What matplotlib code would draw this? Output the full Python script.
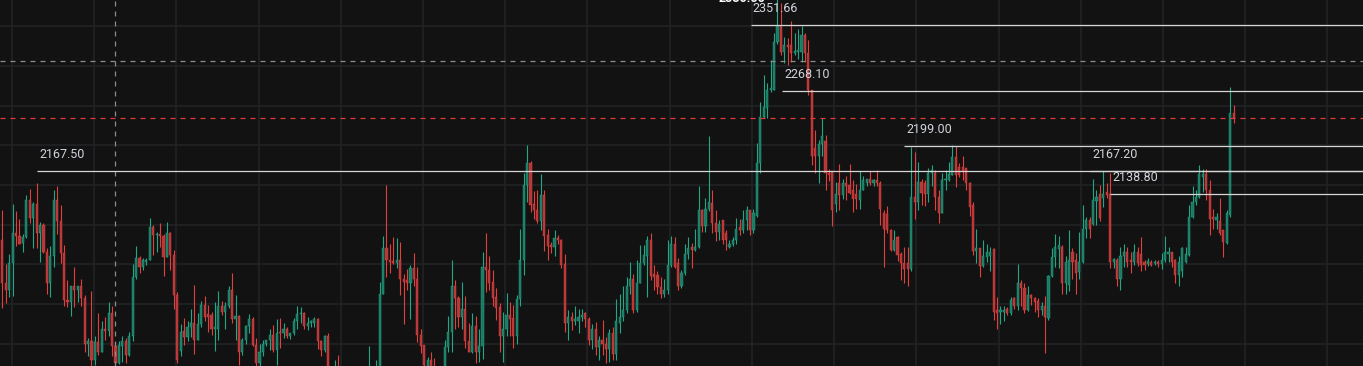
import matplotlib
matplotlib.use("Agg")
import matplotlib.pyplot as plt
import numpy as np

opens = [
    2081, 2026, 2018, 2051, 2090, 2086, 2077, 2084, 2131, 2108,
    2126, 2089, 2100, 2065, 2027, 2060, 2131, 2104, 2064, 2005,
    2002, 2022, 2017, 2023, 2008, 1950, 1953, 1929, 1952, 1940,
    1968, 1966, 1988, 1947, 1925, 1947, 1953, 1936, 1960, 2034,
    2058, 2047, 2053, 2056, 2097, 2087, 2088, 2085, 2059, 2090,
    2062, 2011, 1941, 1966, 1958, 1971, 1976, 1955, 1975, 1999,
    1987, 1986, 1968, 1968, 1997, 1990, 1997, 2018, 1981, 1985,
    1940, 1955, 1972, 1981, 1948, 1925, 1940, 1950, 1954, 1961,
    1942, 1964, 1963, 1969, 1959, 1963, 1978, 1987, 1989, 1972,
    1976, 1976, 1981, 1953, 1942, 1959, 1910, 1905, 1918, 1900,
    1905, 1896, 1903, 1910, 1899, 1908, 1912, 1906, 1920, 1913,
    1921, 2013, 2070, 2056, 2054, 2051, 2056, 2032, 2030, 2027,
    2045, 2032, 1961, 1948, 1918, 1929, 1915, 1905, 1900, 1912,
    1946, 1965, 2023, 2007, 1983, 1993, 1953, 1940, 1972, 1940,
    1947, 2047, 2043, 2028, 2009, 1996, 1960, 1968, 1986, 1982,
    1960, 2006, 2055, 2150, 2177, 2126, 2119, 2104, 2137, 2087,
    2074, 2072, 2083, 2081, 2050, 1976, 1983, 1978, 1979, 1983,
    1988, 1981, 1954, 1969, 1946, 1955, 1950, 1943, 1964, 1937,
    1976, 1984, 1992, 2022, 2032, 1992, 2026, 2051, 2060, 2080,
    2038, 2036, 2021, 2013, 2017, 2049, 2076, 2051, 2022, 2039,
    2063, 2072, 2068, 2072, 2118, 2098, 2120, 2127, 2102, 2091,
    2106, 2089, 2072, 2075, 2080, 2097, 2093, 2106, 2119, 2093,
    2111, 2177, 2235, 2247, 2270, 2270, 2330, 2350, 2318, 2326,
    2326, 2316, 2318, 2318, 2339, 2316, 2269, 2196, 2186, 2202,
    2205, 2165, 2167, 2126, 2152, 2137, 2152, 2150, 2144, 2139,
    2131, 2144, 2153, 2157, 2153, 2156, 2152, 2114, 2113, 2093,
    2068, 2084, 2063, 2052, 2051, 2044, 2135, 2128, 2154, 2152,
    2139, 2165, 2165, 2135, 2115, 2156, 2156, 2162, 2185, 2173,
    2172, 2171, 2153, 2125, 2067, 2071, 2048, 2059, 2060, 2069,
    1992, 1990, 1990, 1993, 1989, 2007, 1997, 2026, 2020, 1992,
    2011, 2007, 2004, 1992, 1997, 1982, 2035, 2059, 2069, 2072,
    2026, 2024, 2066, 2055, 2040, 2053, 2095, 2106, 2101, 2130,
    2139, 2134, 2141, 2139, 2053, 2055, 2032, 2060, 2066, 2055,
    2053, 2065, 2063, 2053, 2050, 2053, 2051, 2053, 2050, 2055,
    2063, 2065, 2056, 2036, 2042, 2053, 2062, 2110, 2128, 2135,
    2160, 2164, 2143, 2110, 2106, 2104, 2093, 2077, 2112, 2240,
]

highs = [
    2119, 2050, 2063, 2126, 2117, 2107, 2088, 2137, 2145, 2129,
    2152, 2103, 2102, 2070, 2073, 2144, 2149, 2125, 2074, 2030,
    2022, 2046, 2023, 2032, 2011, 1957, 2016, 1960, 1988, 1978,
    1983, 2002, 1997, 1950, 1953, 1959, 1957, 1965, 2050, 2073,
    2060, 2058, 2058, 2108, 2100, 2091, 2102, 2088, 2103, 2091,
    2068, 2015, 1975, 1982, 1979, 1993, 2024, 1988, 2004, 2010,
    1999, 1990, 2003, 2016, 2004, 2003, 2023, 2039, 2011, 1986,
    1957, 1974, 1987, 1983, 1957, 1950, 1955, 1955, 1969, 1974,
    1981, 1982, 1976, 1971, 1964, 1982, 1997, 1996, 1990, 1984,
    1980, 1984, 1982, 1955, 1961, 1964, 1918, 1929, 1936, 1912,
    1915, 1908, 1917, 1916, 1913, 1919, 1918, 1947, 1921, 1929,
    2028, 2086, 2150, 2076, 2084, 2083, 2078, 2038, 2044, 2049,
    2064, 2047, 1968, 1948, 1933, 1939, 1932, 1915, 1914, 1955,
    1985, 2055, 2030, 2010, 2028, 2010, 1976, 1989, 1985, 1968,
    2065, 2090, 2060, 2043, 2020, 2001, 1990, 2014, 2002, 1999,
    2011, 2094, 2165, 2200, 2180, 2142, 2144, 2164, 2143, 2094,
    2078, 2093, 2087, 2082, 2063, 1992, 1990, 1997, 1994, 1994,
    1990, 1984, 1975, 1977, 1960, 1980, 1958, 1969, 1971, 2006,
    2013, 2023, 2034, 2053, 2038, 2055, 2074, 2074, 2086, 2089,
    2049, 2041, 2034, 2032, 2081, 2086, 2084, 2058, 2043, 2076,
    2084, 2077, 2094, 2149, 2120, 2133, 2211, 2143, 2118, 2106,
    2106, 2093, 2081, 2084, 2108, 2107, 2118, 2123, 2119, 2120,
    2203, 2254, 2288, 2278, 2308, 2341, 2392, 2379, 2337, 2335,
    2356, 2341, 2346, 2350, 2341, 2333, 2270, 2219, 2207, 2234,
    2213, 2170, 2167, 2154, 2176, 2158, 2161, 2176, 2156, 2151,
    2167, 2161, 2158, 2167, 2158, 2169, 2155, 2118, 2123, 2094,
    2093, 2085, 2066, 2072, 2072, 2198, 2192, 2179, 2158, 2156,
    2171, 2175, 2169, 2144, 2165, 2169, 2179, 2200, 2199, 2177,
    2186, 2171, 2154, 2128, 2094, 2071, 2081, 2076, 2072, 2070,
    2009, 1997, 1997, 1996, 2009, 2009, 2050, 2030, 2026, 2022,
    2013, 2009, 2007, 2003, 2010, 2036, 2070, 2088, 2085, 2074,
    2060, 2093, 2070, 2064, 2091, 2125, 2110, 2110, 2158, 2143,
    2150, 2167, 2152, 2165, 2058, 2058, 2072, 2076, 2072, 2066,
    2076, 2072, 2084, 2055, 2058, 2055, 2055, 2055, 2064, 2085,
    2072, 2066, 2057, 2060, 2072, 2072, 2125, 2148, 2143, 2175,
    2170, 2170, 2156, 2120, 2115, 2133, 2093, 2118, 2274, 2251,
]

lows = [
    1995, 2001, 2009, 2010, 2073, 2076, 2066, 2083, 2102, 2071,
    2070, 2053, 2064, 2013, 2009, 2047, 2088, 2051, 1997, 1996,
    1985, 1996, 2002, 1997, 1939, 1934, 1922, 1923, 1936, 1939,
    1954, 1960, 1934, 1922, 1924, 1927, 1925, 1934, 1953, 2031,
    2039, 2043, 2049, 2055, 2062, 2066, 2072, 2035, 2059, 2043,
    1993, 1925, 1934, 1948, 1953, 1958, 1937, 1955, 1971, 1978,
    1965, 1961, 1941, 1954, 1986, 1968, 1995, 1976, 1954, 1923,
    1936, 1950, 1964, 1947, 1922, 1921, 1934, 1947, 1942, 1940,
    1923, 1944, 1957, 1957, 1956, 1961, 1969, 1976, 1968, 1967,
    1971, 1971, 1943, 1934, 1940, 1900, 1895, 1900, 1893, 1888,
    1893, 1885, 1896, 1894, 1890, 1900, 1903, 1904, 1905, 1908,
    1915, 2013, 2034, 2039, 2050, 2045, 2011, 1975, 2018, 1981,
    2022, 1952, 1938, 1915, 1910, 1905, 1898, 1895, 1893, 1905,
    1939, 1939, 1969, 1971, 1969, 1944, 1939, 1938, 1926, 1927,
    1930, 2015, 2018, 1997, 1980, 1939, 1927, 1960, 1960, 1945,
    1950, 1997, 2036, 2129, 2116, 2107, 2102, 2093, 2067, 2055,
    2064, 2060, 2076, 2045, 1965, 1955, 1967, 1973, 1963, 1978,
    1971, 1948, 1943, 1936, 1929, 1936, 1925, 1927, 1929, 1929,
    1964, 1979, 1989, 2013, 1988, 1990, 2026, 2049, 2009, 2030,
    2018, 2013, 2007, 2009, 2013, 2047, 2045, 2018, 2020, 2037,
    2057, 2045, 2067, 2070, 2091, 2091, 2117, 2090, 2079, 2081,
    2076, 2068, 2071, 2073, 2076, 2087, 2089, 2093, 2087, 2089,
    2110, 2165, 2234, 2234, 2267, 2269, 2328, 2314, 2303, 2301,
    2305, 2314, 2309, 2305, 2305, 2263, 2175, 2165, 2152, 2186,
    2143, 2155, 2098, 2116, 2118, 2132, 2131, 2138, 2116, 2120,
    2120, 2144, 2148, 2150, 2149, 2148, 2100, 2047, 2090, 2067,
    2067, 2054, 2030, 2026, 2023, 2041, 2107, 2118, 2125, 2123,
    2129, 2148, 2118, 2102, 2115, 2144, 2155, 2162, 2147, 2160,
    2156, 2143, 2111, 2062, 2051, 2034, 2046, 2053, 2042, 1980,
    1968, 1975, 1979, 1986, 1986, 1993, 1992, 1997, 1989, 1991,
    1999, 1990, 1984, 1986, 1938, 1980, 2034, 2046, 2045, 2013,
    2013, 2016, 2032, 2013, 2032, 2051, 2083, 2083, 2100, 2100,
    2105, 2122, 2134, 2045, 2045, 2022, 2017, 2047, 2047, 2039,
    2049, 2048, 2041, 2043, 2048, 2048, 2049, 2046, 2044, 2053,
    2053, 2047, 2027, 2022, 2034, 2051, 2060, 2108, 2125, 2133,
    2141, 2131, 2087, 2095, 2095, 2087, 2059, 2076, 2110, 2228,
]

closes = [
    2026, 2017, 2051, 2090, 2086, 2076, 2084, 2131, 2108, 2126,
    2089, 2100, 2065, 2027, 2060, 2131, 2104, 2064, 2005, 2002,
    2022, 2017, 2023, 2008, 1950, 1953, 1929, 1952, 1940, 1968,
    1966, 1988, 1947, 1925, 1948, 1953, 1936, 1960, 2034, 2058,
    2047, 2055, 2056, 2097, 2087, 2088, 2085, 2059, 2090, 2062,
    2011, 1929, 1965, 1958, 1971, 1976, 1955, 1975, 1999, 1984,
    1984, 1968, 1971, 1997, 1990, 1997, 2018, 1981, 1985, 1940,
    1955, 1972, 1981, 1948, 1925, 1940, 1950, 1954, 1961, 1942,
    1963, 1963, 1969, 1959, 1963, 1978, 1987, 1989, 1972, 1976,
    1978, 1981, 1953, 1942, 1959, 1910, 1905, 1918, 1900, 1905,
    1896, 1903, 1910, 1899, 1908, 1912, 1906, 1920, 1913, 1921,
    2013, 2070, 2055, 2053, 2051, 2056, 2032, 2028, 2027, 2045,
    2032, 1961, 1947, 1923, 1929, 1915, 1905, 1900, 1910, 1946,
    1965, 2023, 2007, 1983, 1993, 1953, 1940, 1972, 1940, 1947,
    2047, 2043, 2027, 2008, 1995, 1960, 1968, 1986, 1981, 1960,
    2006, 2055, 2150, 2177, 2125, 2119, 2104, 2137, 2086, 2073,
    2072, 2083, 2081, 2049, 1976, 1983, 1978, 1981, 1984, 1986,
    1981, 1954, 1969, 1946, 1954, 1950, 1943, 1964, 1937, 1978,
    1984, 1992, 2023, 2032, 1992, 2026, 2051, 2062, 2080, 2035,
    2034, 2021, 2013, 2018, 2049, 2076, 2047, 2022, 2039, 2063,
    2071, 2068, 2072, 2118, 2098, 2120, 2128, 2102, 2091, 2101,
    2081, 2080, 2075, 2080, 2095, 2093, 2106, 2119, 2093, 2114,
    2177, 2235, 2248, 2270, 2272, 2330, 2350, 2318, 2326, 2324,
    2316, 2319, 2320, 2339, 2316, 2269, 2186, 2186, 2202, 2212,
    2165, 2162, 2118, 2139, 2137, 2152, 2148, 2140, 2132, 2132,
    2144, 2156, 2157, 2153, 2156, 2152, 2120, 2095, 2093, 2068,
    2081, 2062, 2052, 2044, 2044, 2135, 2128, 2154, 2140, 2139,
    2165, 2169, 2135, 2115, 2156, 2158, 2164, 2185, 2162, 2162,
    2167, 2152, 2122, 2067, 2071, 2048, 2060, 2065, 2065, 1990,
    1989, 1992, 1992, 1988, 2005, 1997, 2026, 2020, 1992, 2011,
    2007, 2003, 1992, 1997, 1984, 2035, 2059, 2072, 2074, 2026,
    2053, 2055, 2053, 2039, 2053, 2095, 2106, 2095, 2131, 2135,
    2108, 2139, 2137, 2053, 2057, 2032, 2060, 2066, 2053, 2053,
    2065, 2051, 2049, 2049, 2054, 2049, 2053, 2050, 2056, 2065,
    2066, 2053, 2036, 2053, 2070, 2063, 2110, 2129, 2135, 2164,
    2164, 2143, 2107, 2107, 2110, 2089, 2078, 2114, 2240, 2234,
]

level_prices = [2167.50, 2351.66, 2268.10, 2199.00, 2167.20, 2138.80]
level_labels = ["2167.50", "2351.66", "2268.10", "2199.00", "2167.20", "2138.80"]
level_starts = [10.1, 218.2, 227.3, 262.9, 317.1, 323.0]
top_label = "2380.00"
top_label_x = 208.7
last_price = 2234.3
cross_x = 32.9
cross_price = 2306.1
grid_prices = [1950, 2000, 2050, 2100, 2150, 2200, 2250, 2300, 2350]

BG = "#121212"
GRID = "#222325"
UP_WICK, UP_BODY = "#22a887", "#1b7a63"
DN_WICK, DN_BODY = "#e23f3f", "#b43838"
LEVEL = "#d6d6d6"
TXT = "#d1d4dc"

fig = plt.figure(figsize=(13.63, 3.66), dpi=100)
fig.patch.set_facecolor(BG)
ax = fig.add_axes([0, 0, 1, 1])
ax.set_facecolor(BG)
x_left, x_right = -0.67, 396.7
ax.set_xlim(x_left, x_right)
ax.set_ylim(1921.8, 2383.0)
for s in ax.spines.values():
    s.set_visible(False)
ax.set_xticks([])
ax.set_yticks([])

# grid
for gp in grid_prices:
    ax.axhline(gp, color=GRID, lw=1.1, zorder=0)
for gx in np.arange(2.8, 397, 23.97):
    ax.axvline(gx, color=GRID, lw=1.1, zorder=0)

o = np.array(opens, float)
h = np.array(highs, float)
l = np.array(lows, float)
c = np.array(closes, float)
x = np.arange(len(o))
up = c >= o
hi = np.maximum(h, np.maximum(o, c))
lo = np.minimum(l, np.minimum(o, c))

ax.vlines(x[up], lo[up], hi[up], color=UP_WICK, lw=0.8, zorder=2)
ax.vlines(x[~up], lo[~up], hi[~up], color=DN_WICK, lw=0.8, zorder=2)
body_lo = np.minimum(o, c)
body_h = np.maximum(np.abs(c - o), 1.3)
ax.bar(x[up], body_h[up], bottom=body_lo[up], width=0.62, color=UP_BODY,
       edgecolor=UP_WICK, linewidth=0.3, zorder=3)
ax.bar(x[~up], body_h[~up], bottom=body_lo[~up], width=0.62, color=DN_BODY,
       edgecolor=DN_WICK, linewidth=0.3, zorder=3)

# crosshair and price lines
ax.axhline(cross_price, color="#8c8c8c", lw=0.9, ls=(0, (4, 4)), zorder=4)
ax.axvline(cross_x, color="#8c8c8c", lw=0.9, ls=(0, (4, 4)), zorder=4)
ax.axhline(last_price, color="#e03a3a", lw=0.9, ls=(0, (4, 4)), zorder=4)

# level lines with labels
for p, lab, xs in zip(level_prices, level_labels, level_starts):
    ax.hlines(p, xs, x_right, color=LEVEL, lw=0.9, zorder=5)
    ax.annotate(lab, xy=(xs, p), xytext=(2, 16.5), textcoords="offset pixels",
                ha="left", va="center", color=TXT, fontsize=9,
                family=["Roboto", "DejaVu Sans"], zorder=6)

# partially visible label at the very top edge (cut off in the reference too)
ax.text(top_label_x, 2385.5, top_label, color="#ffffff", fontsize=9,
        fontweight="bold", family=["Roboto", "DejaVu Sans"],
        ha="left", va="center", clip_on=True, zorder=6)

fig.savefig("out.png", dpi=100, facecolor=BG)
